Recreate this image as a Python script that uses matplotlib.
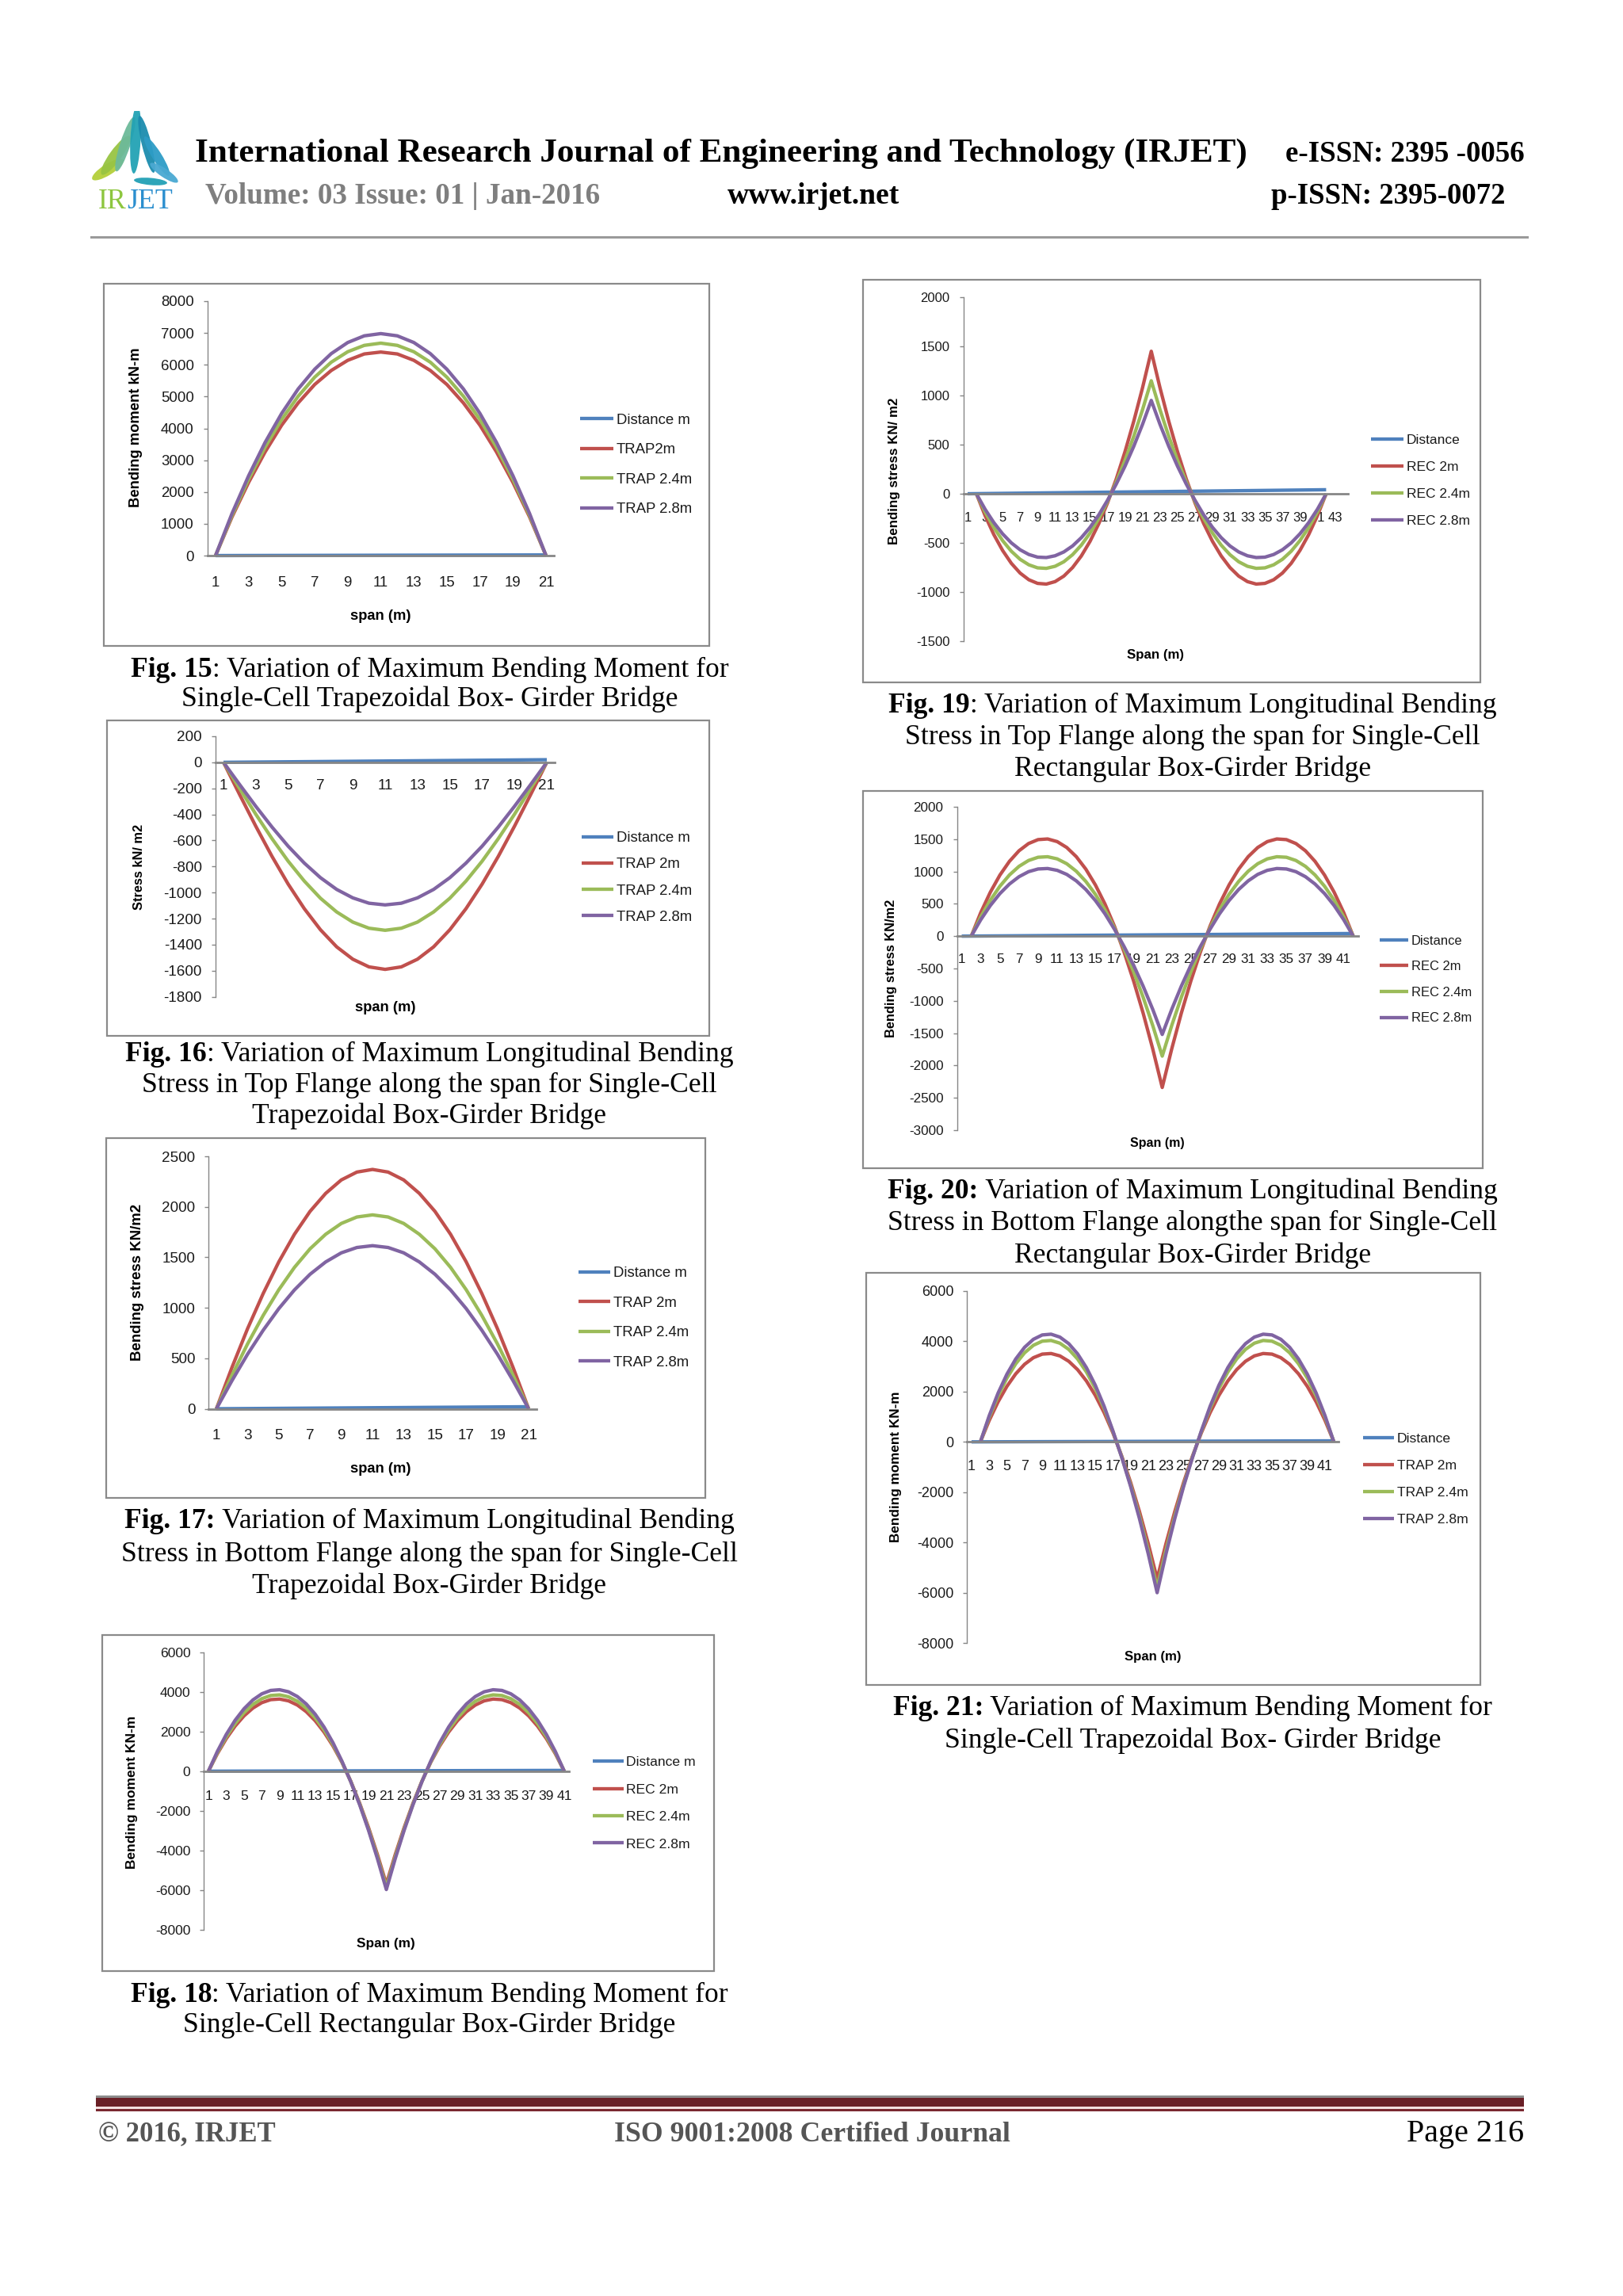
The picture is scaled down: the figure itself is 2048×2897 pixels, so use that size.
import numpy as np
import matplotlib
matplotlib.use("Agg")
import matplotlib.pyplot as plt
from matplotlib.patches import Rectangle, Ellipse

plt.rcParams['font.family'] = ['Liberation Sans', 'DejaVu Sans']
plt.rcParams['axes.unicode_minus'] = False

# ===================== DATA =====================
cat21 = [1, 2, 3, 4, 5, 6, 7, 8, 9, 10, 11, 12, 13, 14, 15, 16, 17, 18, 19, 20, 21]
cat41 = [1, 2, 3, 4, 5, 6, 7, 8, 9, 10, 11, 12, 13, 14, 15, 16, 17, 18, 19, 20, 21,
         22, 23, 24, 25, 26, 27, 28, 29, 30, 31, 32, 33, 34, 35, 36, 37, 38, 39, 40, 41]
cat42 = cat41 + [42]
cat44 = cat41 + [42, 43, 44]
dist21 = [0, 1, 2, 3, 4, 5, 6, 7, 8, 9, 10, 11, 12, 13, 14, 15, 16, 17, 18, 19, 20]
dist41 = [0, 1, 2, 3, 4, 5, 6, 7, 8, 9, 10, 11, 12, 13, 14, 15, 16, 17, 18, 19, 20,
          21, 22, 23, 24, 25, 26, 27, 28, 29, 30, 31, 32, 33, 34, 35, 36, 37, 38, 39, 40]
dist42 = dist41 + [41]

# Fig. 15 - bending moment, trapezoidal
trap2_f15 = [0, 1220, 2300, 3260, 4100, 4800, 5380, 5820, 6140, 6340, 6400, 6340, 6140, 5820, 5380, 4800, 4100, 3260, 2300, 1220, 0]
trap24_f15 = [0, 1270, 2400, 3410, 4280, 5010, 5610, 6080, 6410, 6610, 6680, 6610, 6410, 6080, 5610, 5010, 4280, 3410, 2400, 1270, 0]
trap28_f15 = [0, 1330, 2510, 3560, 4470, 5240, 5860, 6350, 6700, 6910, 6980, 6910, 6700, 6350, 5860, 5240, 4470, 3560, 2510, 1330, 0]

# Fig. 16 - top flange stress, trapezoidal
trap2_f16 = [0, -248, -491, -722, -935, -1124, -1286, -1417, -1512, -1571, -1590, -1571, -1512, -1417, -1286, -1124, -935, -722, -491, -248, 0]
trap24_f16 = [0, -201, -399, -586, -759, -912, -1044, -1149, -1227, -1274, -1290, -1274, -1227, -1149, -1044, -912, -759, -586, -399, -201, 0]
trap28_f16 = [0, -171, -338, -497, -644, -774, -886, -976, -1041, -1082, -1095, -1082, -1041, -976, -886, -774, -644, -497, -338, -171, 0]

# Fig. 17 - bottom flange stress, trapezoidal
trap2_f17 = [0, 410, 794, 1142, 1455, 1728, 1955, 2133, 2266, 2344, 2370, 2344, 2266, 2133, 1955, 1728, 1455, 1142, 794, 410, 0]
trap24_f17 = [0, 332, 643, 925, 1179, 1400, 1584, 1728, 1835, 1899, 1920, 1899, 1835, 1728, 1584, 1400, 1179, 925, 643, 332, 0]
trap28_f17 = [0, 279, 541, 778, 992, 1177, 1332, 1454, 1544, 1597, 1615, 1597, 1544, 1454, 1332, 1177, 992, 778, 541, 279, 0]

# Fig. 18 - bending moment, rectangular
rec2_f18 = [0, 881, 1641, 2279, 2796, 3190, 3464, 3616, 3646, 3555, 3342, 3008, 2552, 1975, 1276, 456, -507, -1615, -2850, -4212, -5700,
            -4212, -2850, -1615, -507, 456, 1276, 1975, 2552, 3008, 3342, 3555, 3646, 3616, 3464, 3190, 2796, 2279, 1641, 881, 0]
rec24_f18 = [0, 932, 1735, 2410, 2956, 3374, 3663, 3824, 3856, 3760, 3535, 3181, 2699, 2089, 1349, 482, -520, -1657, -2925, -4323, -5850,
             -4323, -2925, -1657, -520, 482, 1349, 2089, 2699, 3181, 3535, 3760, 3856, 3824, 3663, 3374, 2956, 2410, 1735, 932, 0]
rec28_f18 = [0, 995, 1852, 2573, 3155, 3601, 3910, 4081, 4116, 4013, 3773, 3395, 2881, 2229, 1440, 515, -532, -1694, -2990, -4419, -5980,
             -4419, -2990, -1694, -532, 515, 1440, 2229, 2881, 3395, 3773, 4013, 4116, 4081, 3910, 3601, 3155, 2573, 1852, 995, 0]

# Fig. 19 - top flange stress, rectangular (curves start at category 2)
rec2_f19 = [0, -223, -416, -577, -708, -807, -875, -912, -919, -894, -838, -751, -633, -484, -304, -93, 151, 429, 738, 1078, 1450,
            1078, 738, 429, 151, -93, -304, -484, -633, -751, -838, -894, -919, -912, -875, -807, -708, -577, -416, -223, 0]
rec24_f19 = [0, -185, -344, -477, -585, -667, -723, -754, -759, -738, -692, -620, -523, -400, -251, -77, 120, 340, 585, 855, 1150,
             855, 585, 340, 120, -77, -251, -400, -523, -620, -692, -738, -759, -754, -723, -667, -585, -477, -344, -185, 0]
rec28_f19 = [0, -158, -294, -408, -500, -570, -618, -645, -649, -631, -592, -531, -447, -342, -215, -66, 99, 281, 483, 706, 950,
             706, 483, 281, 99, -66, -215, -342, -447, -531, -592, -631, -649, -645, -618, -570, -500, -408, -294, -158, 0]

# Fig. 20 - bottom flange stress, rectangular (curves start at category 2)
rec2_f20 = [0, 366, 680, 944, 1157, 1320, 1432, 1493, 1503, 1462, 1371, 1229, 1036, 792, 498, 152, -244, -692, -1190, -1740, -2340,
            -1740, -1190, -692, -244, 152, 498, 792, 1036, 1229, 1371, 1462, 1503, 1493, 1432, 1320, 1157, 944, 680, 366, 0]
rec24_f20 = [0, 299, 556, 772, 946, 1079, 1170, 1220, 1228, 1195, 1120, 1004, 846, 647, 407, 124, -193, -549, -944, -1379, -1855,
             -1379, -944, -549, -193, 124, 407, 647, 846, 1004, 1120, 1195, 1228, 1220, 1170, 1079, 946, 772, 556, 299, 0]
rec28_f20 = [0, 255, 474, 658, 806, 919, 997, 1039, 1046, 1018, 955, 855, 721, 551, 346, 106, -159, -449, -773, -1130, -1520,
             -1130, -773, -449, -159, 106, 346, 551, 721, 855, 955, 1018, 1046, 1039, 997, 919, 806, 658, 474, 255, 0]

# Fig. 21 - bending moment (curves start at category 2)
trap2_f21 = [0, 855, 1591, 2208, 2707, 3087, 3349, 3491, 3515, 3420, 3206, 2873, 2422, 1852, 1164, 356, -568, -1612, -2772, -4052, -5450,
             -4052, -2772, -1612, -568, 356, 1164, 1852, 2422, 2873, 3206, 3420, 3515, 3491, 3349, 3087, 2707, 2208, 1591, 855, 0]
trap24_f21 = [0, 981, 1826, 2535, 3107, 3543, 3843, 4006, 4034, 3925, 3680, 3298, 2780, 2126, 1336, 409, -605, -1715, -2950, -4312, -5800,
              -4312, -2950, -1715, -605, 409, 1336, 2126, 2780, 3298, 3680, 3925, 4034, 4006, 3843, 3543, 3107, 2535, 1826, 981, 0]
trap28_f21 = [0, 1042, 1939, 2692, 3299, 3762, 4081, 4254, 4284, 4168, 3907, 3502, 2952, 2257, 1418, 434, -626, -1774, -3052, -4461, -6000,
              -4461, -3052, -1774, -626, 434, 1418, 2257, 2952, 3502, 3907, 4168, 4284, 4254, 4081, 3762, 3299, 2692, 1939, 1042, 0]

yt15 = [0, 1000, 2000, 3000, 4000, 5000, 6000, 7000, 8000]
yt16 = [-1800, -1600, -1400, -1200, -1000, -800, -600, -400, -200, 0, 200]
yt17 = [0, 500, 1000, 1500, 2000, 2500]
yt18 = [-8000, -6000, -4000, -2000, 0, 2000, 4000, 6000]
yt19 = [-1500, -1000, -500, 0, 500, 1000, 1500, 2000]
yt20 = [-3000, -2500, -2000, -1500, -1000, -500, 0, 500, 1000, 1500, 2000]
yt21 = [-8000, -6000, -4000, -2000, 0, 2000, 4000, 6000]

leg_trap_a = ['Distance m', 'TRAP2m', 'TRAP 2.4m', 'TRAP 2.8m']
leg_trap_b = ['Distance m', 'TRAP 2m', 'TRAP 2.4m', 'TRAP 2.8m']
leg_rec_a = ['Distance m', 'REC 2m', 'REC 2.4m', 'REC 2.8m']
leg_rec_b = ['Distance', 'REC 2m', 'REC 2.4m', 'REC 2.8m']
leg_trap_c = ['Distance', 'TRAP 2m', 'TRAP 2.4m', 'TRAP 2.8m']

# ===================== FIGURE =====================
W, H = 2048, 2897
fig = plt.figure(figsize=(W / 100, H / 100), dpi=100)
fig.patch.set_facecolor('white')
R = fig.canvas.get_renderer()
SERIF = ['Liberation Serif', 'DejaVu Serif']
COLORS = ['#4F81BD', '#C0504D', '#9BBB59', '#8064A2']
AXC = '#868686'


def FX(x):
    return x / W


def FY(y):
    return 1 - y / H


def fit_text(s, x0, x1, yb, size=20, **kw):
    t = fig.text(FX(x0), FY(yb), s, fontsize=size, ha='left', va='baseline', **kw)
    w = t.get_window_extent(renderer=R).width
    t.set_fontsize(size * (x1 - x0) / w)
    return t


def rect_px(x0, y0, x1, y1, color, fill=True, lw=0):
    r = Rectangle((FX(x0), FY(y1)), (x1 - x0) / W, (y1 - y0) / H, transform=fig.transFigure,
                  facecolor=color if fill else 'none', edgecolor=color if not fill else 'none',
                  lw=lw)
    fig.add_artist(r)


def run_line(x0, yb, parts, size, family):
    """Draw consecutive text pieces (text, weight, color) starting at x0."""
    x = x0
    for s, w, c in parts:
        t = fig.text(FX(x), FY(yb), s, fontsize=size, fontweight=w, color=c, family=family,
                     ha='left', va='baseline')
        x += t.get_window_extent(renderer=R).width


# ---------- header ----------
lax = fig.add_axes([FX(114), FY(268), (230 - 114) / W, (268 - 140) / H])
lax.set_xlim(114, 230)
lax.set_ylim(268, 140)
lax.axis('off')
leaves = [(136, 214, 46, 14, 58, '#B3CF3A'), (146, 196, 60, 15, 36, '#98C443'),
          (158, 182, 72, 13, 18, '#6DBA9A'), (171, 176, 86, 13, 3, '#22A2B4'),
          (185, 182, 74, 12, -14, '#1C8CAE'), (198, 197, 58, 12, -32, '#2D9CC6'),
          (207, 218, 42, 11, -56, '#4AA9D2'), (190, 229, 42, 9, -85, '#23A0B6')]
for cx, cy, ln, wd, ang, col in leaves:
    lax.add_patch(Ellipse((cx, cy), wd, ln, angle=ang, facecolor=col, edgecolor='none', alpha=0.95))
probe = fit_text('IRJET', 124, 218, 263, 18, family=SERIF)
LOGO_FS = probe.get_fontsize()
probe.remove()
run_line(124, 263, [('IR', 'normal', '#8DC63F'), ('JET', 'normal', '#2B8FCF')], LOGO_FS, SERIF)

fit_text('International Research Journal of Engineering and Technology (IRJET)', 246, 1575, 204, 28,
         family=SERIF, fontweight='bold', color='black')
fit_text('e-ISSN: 2395 -0056', 1622, 1923, 204, 24, family=SERIF, fontweight='bold', color='black')
fit_text('Volume: 03 Issue: 01 | Jan-2016', 259, 758, 257, 24, family=SERIF, fontweight='bold', color='#7f7f7f')
fit_text('www.irjet.net', 918, 1136, 257, 24, family=SERIF, fontweight='bold', color='black')
fit_text('p-ISSN: 2395-0072', 1604, 1899, 257, 24, family=SERIF, fontweight='bold', color='black')
rect_px(114, 298, 1929, 301, '#9a9a9a')

# ---------- footer ----------
rect_px(121, 2644, 1923, 2647, '#8c8c8c')
rect_px(121, 2647, 1923, 2658, '#6a1f26')
rect_px(121, 2658, 1923, 2661, '#f3dede')
rect_px(121, 2661, 1923, 2664, '#7a2830')
fit_text('\u00a9 2016, IRJET', 124, 348, 2702, 24, family=SERIF, fontweight='bold', color='#555555')
fit_text('ISO 9001:2008 Certified Journal', 775, 1274, 2702, 24, family=SERIF, fontweight='bold', color='#555555')
fit_text('Page 216', 1775, 1923, 2702, 24, family=SERIF, color='black')


# ---------- charts ----------
def draw_chart(sp):
    bx0, by0, bx1, by1 = sp['box']
    rect_px(bx0, by0, bx1, by1, '#8a8a8a', fill=False, lw=1.6)
    l, t, r, b = sp['ax']
    ax = fig.add_axes([FX(l), FY(b), (r - l) / W, (b - t) / H])
    ax.patch.set_alpha(0)
    cats = sp['cats']
    ax.set_xlim(0.5, len(cats) + 0.5)
    ax.set_ylim(sp['yt'][0], sp['yt'][-1])
    lines = []
    for i, (xs, ys) in enumerate(sp['series']):
        ln, = ax.plot(xs, ys, color=COLORS[i], lw=3.1, solid_joinstyle='round',
                      solid_capstyle='butt', clip_on=False)
        lines.append(ln)
    shown = cats[::2]
    ax.set_xticks(shown)
    ax.set_xticklabels([str(c) for c in shown])
    ax.set_yticks(sp['yt'])
    ax.set_yticklabels([str(v) for v in sp['yt']])
    for s in ('top', 'right'):
        ax.spines[s].set_visible(False)
    ax.spines['left'].set_color(AXC)
    ax.spines['left'].set_linewidth(1.0)
    ax.spines['bottom'].set_position(('data', 0))
    ax.spines['bottom'].set_color(AXC)
    ax.spines['bottom'].set_linewidth(2.0)
    ax.tick_params(axis='y', length=3.6, width=1, color=AXC, pad=8.6, labelsize=sp['fs'],
                   labelcolor='#1a1a1a')
    ax.tick_params(axis='x', length=0, pad=sp['xpad'], labelsize=sp['fs'], labelcolor='#1a1a1a')
    # legend
    lfs = sp['lfs']
    fpx = lfs * 100 / 72
    lx, ly, pitch, hpx = sp['leg']
    leg = ax.legend(lines, sp['labels'], loc='center left', bbox_to_anchor=(FX(lx), FY(ly)),
                    bbox_transform=fig.transFigure, frameon=False, fontsize=lfs,
                    handlelength=hpx / fpx, handletextpad=0.2, labelspacing=pitch / fpx - 0.95,
                    borderpad=0, borderaxespad=0)
    for txt in leg.get_texts():
        txt.set_color('#1a1a1a')
    # axis titles
    xlx, xly, xs_ = sp['xlab']
    fig.text(FX(xlx), FY(xly), sp['xtitle'], ha='center', va='center', fontweight='bold', fontsize=xs_)
    ylx, yly, ys_ = sp['ylab']
    fig.text(FX(ylx), FY(yly), sp['ytitle'], ha='center', va='center', rotation=90,
             fontweight='bold', fontsize=ys_)


charts = [
    dict(box=(131, 358, 895, 815), ax=(261.6, 380, 699.4, 701), cats=cat21, yt=yt15,
         series=[(cat21, dist21), (cat21, trap2_f15), (cat21, trap24_f15), (cat21, trap28_f15)],
         labels=leg_trap_a, fs=13.4, xpad=18.4, lfs=13.4, leg=(732, 586.5, 38.3, 42),
         xtitle='span (m)', xlab=(480, 777, 13.2), ytitle='Bending moment kN-m', ylab=(172, 539, 13.2)),
    dict(box=(135, 909, 895, 1307), ax=(271.8, 929, 700.2, 1257.6), cats=cat21, yt=yt16,
         series=[(cat21, dist21), (cat21, trap2_f16), (cat21, trap24_f16), (cat21, trap28_f16)],
         labels=leg_trap_b, fs=13.6, xpad=15.5, lfs=13.4, leg=(733.6, 1107.5, 33.7, 40.4),
         xtitle='span (m)', xlab=(486, 1272, 13.2), ytitle='Stress kN/ m2', ylab=(176, 1094, 11.8)),
    dict(box=(134, 1436, 890, 1890), ax=(263.2, 1459, 676.9, 1777.5), cats=cat21, yt=yt17,
         series=[(cat21, dist21), (cat21, trap2_f17), (cat21, trap24_f17), (cat21, trap28_f17)],
         labels=leg_trap_b, fs=13.6, xpad=18, lfs=13.4, leg=(729.6, 1663, 38, 40.4),
         xtitle='span (m)', xlab=(480, 1853, 13.2), ytitle='Bending stress KN/m2', ylab=(173.5, 1617.5, 13.4)),
    dict(box=(129, 2063, 900.6, 2487), ax=(257.4, 2085, 717.6, 2434.6), cats=cat41, yt=yt18,
         series=[(cat41, dist41), (cat41, rec2_f18), (cat41, rec24_f18), (cat41, rec28_f18)],
         labels=leg_rec_a, fs=12.6, xpad=17.3, lfs=12.6, leg=(747.5, 2275.3, 35.8, 39.5),
         xtitle='Span (m)', xlab=(487, 2452, 12.4), ytitle='Bending moment KN-m', ylab=(167, 2261, 12.5)),
    dict(box=(1089, 353, 1868, 861), ax=(1215.5, 375, 1701, 809), cats=cat44, yt=yt19,
         series=[(cat42, dist42), (cat42[1:], rec2_f19), (cat42[1:], rec24_f19), (cat42[1:], rec28_f19)],
         labels=leg_rec_b, fs=12.0, xpad=16.9, lfs=12.5, leg=(1730, 606.3, 35.2, 41.3),
         xtitle='Span (m)', xlab=(1458, 827, 12.2), ytitle='Bending stress KN/ m2', ylab=(1128, 594, 12.2)),
    dict(box=(1089, 998, 1871, 1474), ax=(1207.5, 1018, 1713.6, 1426), cats=cat42, yt=yt20,
         series=[(cat42, dist42), (cat42[1:], rec2_f20), (cat42[1:], rec24_f20), (cat42[1:], rec28_f20)],
         labels=leg_rec_b, fs=12.3, xpad=16, lfs=11.9, leg=(1741, 1236, 33.3, 36.3),
         xtitle='Span (m)', xlab=(1460, 1442, 11.5), ytitle='Bending stress KN/m2', ylab=(1124, 1222, 11.8)),
    dict(box=(1092.5, 1606, 1868, 2126), ax=(1220.4, 1629, 1688.7, 2073), cats=cat42, yt=yt21,
         series=[(cat42, dist42), (cat42[1:], trap2_f21), (cat42[1:], trap24_f21), (cat42[1:], trap28_f21)],
         labels=leg_trap_c, fs=13.0, xpad=16.5, lfs=12.6, leg=(1720, 1866.5, 35.3, 39.3),
         xtitle='Span (m)', xlab=(1455, 2090, 12.1), ytitle='Bending moment KN-m', ylab=(1130, 1851, 12.3)),
]
for sp in charts:
    draw_chart(sp)


# ---------- captions ----------
def caption_line(cx, yb, parts, size):
    texts, widths = [], []
    for s, w in parts:
        t = fig.text(0, FY(yb), s, fontsize=size, fontweight=w, family=SERIF, ha='left', va='baseline')
        widths.append(t.get_window_extent(renderer=R).width)
        texts.append(t)
    x = cx - sum(widths) / 2
    for t, w in zip(texts, widths):
        t.set_x(FX(x))
        x += w
    return sum(widths)


# determine caption font size from the first caption line (757 px wide)
probe = [fig.text(0, 0, 'Fig. 15', fontsize=24, fontweight='bold', family=SERIF),
         fig.text(0, 0, ': Variation of Maximum Bending Moment for', fontsize=24, family=SERIF)]
pw = sum(p.get_window_extent(renderer=R).width for p in probe)
for p in probe:
    p.remove()
CAP = 24 * 757 / pw

caps = [
    (542, [853.6, 891], [[('Fig. 15', 'bold'), (': Variation of Maximum Bending Moment for', 'normal')],
                         [('Single-Cell Trapezoidal Box- Girder Bridge', 'normal')]]),
    (542, [1339, 1378, 1417], [[('Fig. 16', 'bold'), (': Variation of Maximum Longitudinal Bending', 'normal')],
                               [('Stress in Top Flange along the span for Single-Cell', 'normal')],
                               [('Trapezoidal Box-Girder Bridge', 'normal')]]),
    (542, [1927.5, 1969.6, 2010], [[('Fig. 17:', 'bold'), (' Variation of Maximum Longitudinal Bending', 'normal')],
                                   [('Stress in Bottom Flange along the span for Single-Cell', 'normal')],
                                   [('Trapezoidal Box-Girder Bridge', 'normal')]]),
    (542, [2526.5, 2563.7], [[('Fig. 18', 'bold'), (': Variation of Maximum Bending Moment for', 'normal')],
                             [('Single-Cell Rectangular Box-Girder Bridge', 'normal')]]),
    (1505, [899, 938.7, 979], [[('Fig. 19', 'bold'), (': Variation of Maximum Longitudinal Bending', 'normal')],
                               [('Stress in Top Flange along the span for Single-Cell', 'normal')],
                               [('Rectangular Box-Girder Bridge', 'normal')]]),
    (1505, [1512, 1551.7, 1592.6], [[('Fig. 20:', 'bold'), (' Variation of Maximum Longitudinal Bending', 'normal')],
                                    [('Stress in Bottom Flange alongthe span for Single-Cell', 'normal')],
                                    [('Rectangular Box-Girder Bridge', 'normal')]]),
    (1505, [2163.5, 2205], [[('Fig. 21:', 'bold'), (' Variation of Maximum Bending Moment for', 'normal')],
                            [('Single-Cell Trapezoidal Box- Girder Bridge', 'normal')]]),
]
for cx, ys, lines in caps:
    for yb, parts in zip(ys, lines):
        caption_line(cx, yb, parts, CAP)

fig.savefig('out.png', dpi=100, facecolor='white')
